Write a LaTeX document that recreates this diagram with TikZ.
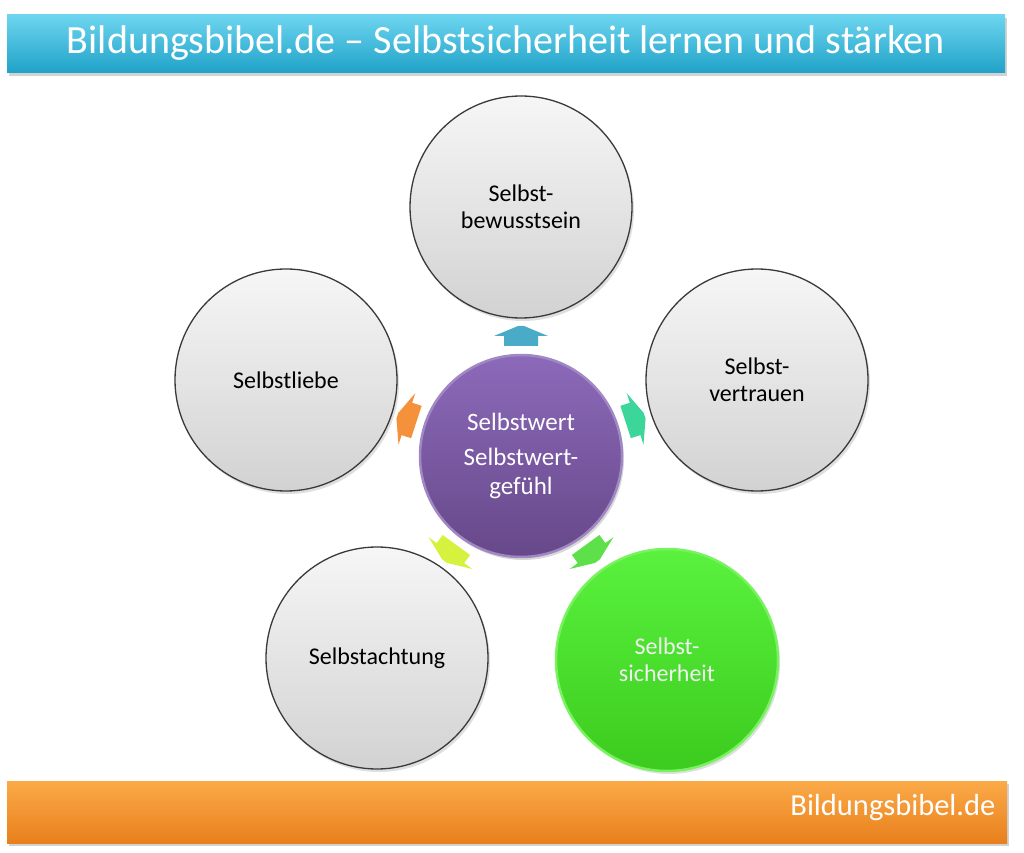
\documentclass[tikz,border=0pt]{standalone}
\usepackage{fontspec}
\setmainfont{Carlito}
\usetikzlibrary{calc,shadows}
\definecolor{hdrTop}{HTML}{6DD5EF}
\definecolor{hdrBot}{HTML}{1FA2C8}
\definecolor{ftrTop}{HTML}{FBAA48}
\definecolor{ftrBot}{HTML}{E8801C}
\definecolor{grayTop}{HTML}{F6F6F6}
\definecolor{grayBot}{HTML}{D2D2D2}
\definecolor{grayEdge}{HTML}{3A3A3A}
\definecolor{purTop}{HTML}{8C6ABA}
\definecolor{purBot}{HTML}{674889}
\definecolor{purEdge}{HTML}{A088C4}
\definecolor{grnTop}{HTML}{5AF23E}
\definecolor{grnBot}{HTML}{3CCB1E}
\definecolor{grnEdge}{HTML}{78F25E}
\definecolor{arrA}{HTML}{4AABC8}
\definecolor{arrB}{HTML}{3DD69A}
\definecolor{arrC}{HTML}{5EE04A}
\definecolor{arrD}{HTML}{D6F23F}
\definecolor{arrE}{HTML}{F4913A}
\tikzset{
  ball/.style={circle, minimum size=222pt, inner sep=0pt, align=center,
    top color=grayTop, bottom color=grayBot, draw=grayEdge, line width=1.3pt,
    font=\fontsize{24}{27}\selectfont, text=black,
    drop shadow={opacity=0.25, shadow xshift=2pt, shadow yshift=-3pt}},
  hubball/.style={circle, minimum size=202pt, inner sep=0pt, align=center,
    top color=purTop, bottom color=purBot, draw=purEdge, line width=2.5pt,
    font=\fontsize{25}{29}\selectfont, text=white,
    drop shadow={opacity=0.3, shadow xshift=2pt, shadow yshift=-3pt}},
  greenball/.style={ball, top color=grnTop, bottom color=grnBot, draw=grnEdge,
    line width=2.5pt, text=white!94!black},
  banner/.style={drop shadow={opacity=0.35, shadow xshift=2pt, shadow yshift=-3pt}}
}
\begin{document}
\begin{tikzpicture}[x=1pt,y=1pt]
\useasboundingbox (0,0) rectangle (1024,852);
\fill[white] (0,0) rectangle (1024,852);
% header
\path[banner, top color=hdrTop, bottom color=hdrBot] (7,837) rectangle (1005,779);
\node[text=white, font=\fontsize{40}{42}\selectfont] (title) at (506,809)
  {Bildungsbibel.de – Selbstsicherheit lernen und stärken};
% footer
\path[banner, top color=ftrTop, bottom color=ftrBot] (7,71) rectangle (1007,9);
\node[text=white, font=\fontsize{30.5}{32}\selectfont, anchor=east] (foot) at (999,44)
  {Bildungsbibel.de};
% circles
\node[ball] (top) at (521,645) {Selbst-\\bewusstsein};
\node[ball] (right) at (757,472) {Selbst-\\vertrauen};
\node[ball] (left) at (286,472) {Selbstliebe};
\node[ball] (bl) at (377,194) {Selbstachtung};
\node[greenball] (br) at (667,192) {Selbst-\\sicherheit};
\node[hubball] (hub) at (521,396) {Selbstwert\\[6pt]Selbstwert-\\gefühl};
% arrows
\foreach \ang/\col in {90/arrA,18/arrB,-54/arrC,-126/arrD,162/arrE}{
  \begin{scope}[shift={($(hub.center)+(\ang:120)$)},rotate=\ang]
    \fill[\col] (-10,-17) -- (0,-17) -- (0,-27) -- (10,-3) -- (10,3) -- (0,27)
      -- (0,17) -- (-10,17) -- cycle;
  \end{scope}
}
\end{tikzpicture}
\end{document}
